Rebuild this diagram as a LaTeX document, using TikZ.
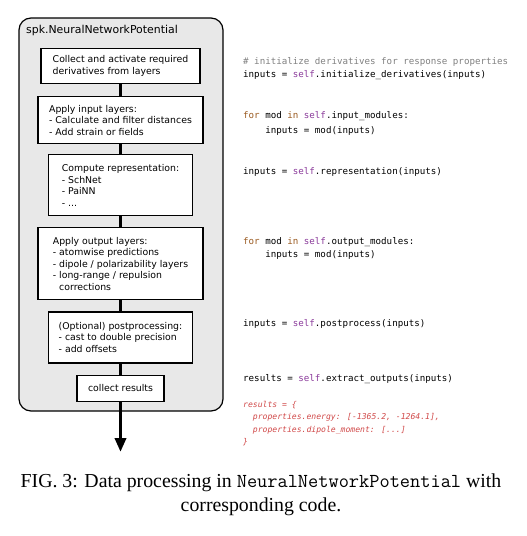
\documentclass[tikz,border=0pt]{standalone}
\usepackage{fontspec}
\setmainfont{Liberation Serif}
\newfontfamily\diagfont{DejaVu Sans}
\newfontfamily\codefont{DejaVu Sans Mono}
\usetikzlibrary{arrows.meta,positioning}

\definecolor{framegray}{HTML}{E8E8E8}
\definecolor{kwbrown}{HTML}{9A5A20}
\definecolor{selfpurple}{HTML}{8A3A9A}
\definecolor{commentgray}{HTML}{808080}
\definecolor{resultred}{HTML}{D04848}

\newcommand{\kw}[1]{\textcolor{kwbrown}{#1}}
\newcommand{\slf}{\textcolor{selfpurple}{self}}
\newcommand{\ind}{\phantom{xxxx}}

\begin{document}
\begin{tikzpicture}[
    x=1pt, y=-1pt,
    node distance=11pt,
    frame/.style={draw, line width=1.2pt, fill=framegray, rounded corners=12pt,
        minimum width=204pt, minimum height=393pt},
    stage/.style={draw, line width=1.1pt, fill=white, inner sep=0pt, align=left,
        font=\diagfont\fontsize{9.35}{11.5}\selectfont},
    code/.style={anchor=west, inner sep=0pt, align=left,
        font=\codefont\fontsize{9.17}{13.5}\selectfont},
    flow/.style={line width=3.5pt}
]
\useasboundingbox (0,0) rectangle (527,536);

\node[frame] (frame) at (121,214.5) {};
\node[anchor=west, inner sep=0pt, font=\diagfont\fontsize{10.9}{13}\selectfont]
    (title) at (26,30) {spk.NeuralNetworkPotential};

\node[stage, minimum width=159pt, minimum height=35pt, anchor=north] (derivs) at (120.5,48)
    {Collect and activate required\\derivatives from layers};
\node[stage, minimum width=165pt, minimum height=47pt] (inlayers) [below=12pt of derivs]
    {Apply input layers:\\- Calculate and filter distances\\- Add strain or fields};
\node[stage, minimum width=144pt, minimum height=61pt] (repr) [below=10pt of inlayers]
    {Compute representation:\\- SchNet\\- PaiNN\\- ...};
\node[stage, minimum width=165pt, minimum height=72pt] (outlayers) [below=of repr]
    {Apply output layers:\\- atomwise predictions\\- dipole / polarizability layers\\- long-range / repulsion\\\phantom{-} corrections};
\node[stage, minimum width=144pt, minimum height=51pt] (postproc) [below=of outlayers]
    {(Optional) postprocessing:\\- cast to double precision\\- add offsets};
\node[stage, minimum width=87pt, minimum height=26pt] (collect) [below=of postproc]
    {collect results};
\coordinate (out) at (120.5,452);

\draw[flow] (derivs) -- (inlayers);
\draw[flow] (inlayers) -- (repr);
\draw[flow] (repr) -- (outlayers);
\draw[flow] (outlayers) -- (postproc);
\draw[flow] (postproc) -- (collect);
\draw[flow, -{Triangle[length=14pt,width=11pt]}] (collect) -- (out);

% code on the right
\node[code] (c1) at (243,68.5)
    {\textcolor{commentgray}{\# initialize derivatives for response properties}\\inputs = \slf.initialize\_derivatives(inputs)};
\node[code, font=\codefont\fontsize{9.17}{15}\selectfont] (c2) at (243,123.5)
    {\kw{for} mod \kw{in} \slf.input\_modules:\\\ind inputs = mod(inputs)};
\node[code] (c3) at (243,172) {inputs = \slf.representation(inputs)};
\node[code] (c4) at (243,248.5)
    {\kw{for} mod \kw{in} \slf.output\_modules:\\\ind inputs = mod(inputs)};
\node[code] (c5) at (243,324) {inputs = \slf.postprocess(inputs)};
\node[code] (c6) at (243,379) {results = \slf.extract\_outputs(inputs)};
\node[code, text=resultred, font=\codefont\itshape\fontsize{8.1}{12.3}\selectfont] (c7) at (243,423.5)
    {results = \{\\\phantom{xx}properties.energy: [-1365.2, -1264.1],\\\phantom{xx}properties.dipole\_moment: [...]\\\}};

\node[align=center, inner sep=0pt, font=\fontsize{19.8}{24}\selectfont] (caption) at (261,495)
    {FIG. 3: Data processing in {\ttfamily NeuralNetworkPotential} with\\corresponding code.};
\end{tikzpicture}
\end{document}
